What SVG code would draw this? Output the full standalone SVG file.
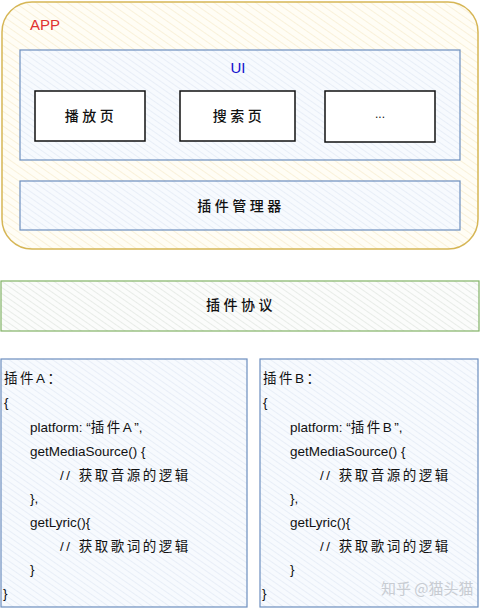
<svg xmlns="http://www.w3.org/2000/svg" width="481" height="611" viewBox="0 0 481 611">
<style>
.t{font-family:"Noto Sans CJK SC","Liberation Sans",sans-serif;font-size:14px;font-weight:500;fill:#111;letter-spacing:3.5px}
.c{text-anchor:middle}
.code{font-family:"Liberation Sans","Noto Sans CJK SC",sans-serif;font-size:13.5px;fill:#111}
.cj{letter-spacing:2.5px}
</style>
<defs>
<pattern id="hy" width="6" height="6" patternUnits="userSpaceOnUse" patternTransform="rotate(-55)"><rect width="6" height="6" fill="#fffdf5"/><line x1="0" y1="0" x2="0" y2="6" stroke="#f3e6bf" stroke-width="1"/></pattern>
<pattern id="hb" width="5" height="5" patternUnits="userSpaceOnUse" patternTransform="rotate(-55)"><rect width="5" height="5" fill="#f7fafe"/><line x1="0" y1="0" x2="0" y2="5" stroke="#d9e3f1" stroke-width="1"/></pattern>
<pattern id="hg" width="5" height="5" patternUnits="userSpaceOnUse" patternTransform="rotate(-55)"><rect width="5" height="5" fill="#fbfcfb"/><line x1="0" y1="0" x2="0" y2="5" stroke="#d6dcd5" stroke-width="1"/></pattern>
</defs>
<rect width="481" height="611" fill="#ffffff"/>
<g id="app">
<rect x="2" y="2" width="476" height="247" rx="30" fill="url(#hy)" stroke="#d6b656" stroke-width="1.5"/>
<text x="30" y="30" style="font-family:'Liberation Sans',sans-serif;font-size:15px;fill:#e03030">APP</text>
</g>
<g id="ui">
<rect x="20" y="50" width="440" height="110" fill="url(#hb)" stroke="#6c8ebf" stroke-width="1.2"/>
<text x="238" y="73" class="c" style="font-family:'Liberation Sans',sans-serif;font-size:15px;fill:#1010cc">UI</text>
</g>
<g id="play">
<rect x="35" y="91" width="110" height="50" fill="#ffffff" stroke="#111" stroke-width="1.5"/>
<text x="91" y="121" class="t c">播放页</text>
</g>
<g id="search">
<rect x="180" y="91" width="115" height="50" fill="#ffffff" stroke="#111" stroke-width="1.5"/>
<text x="239" y="121" class="t c">搜索页</text>
</g>
<g id="more">
<rect x="325" y="91" width="110" height="51" fill="#ffffff" stroke="#111" stroke-width="1.5"/>
<text x="380" y="118" class="c" style="font-family:'Liberation Sans',sans-serif;font-size:12px;fill:#111">...</text>
</g>
<g id="manager">
<rect x="20" y="181" width="440" height="49" fill="url(#hb)" stroke="#6c8ebf" stroke-width="1.2"/>
<text x="241" y="211" class="t c">插件管理器</text>
</g>
<g id="protocol">
<rect x="1" y="281" width="478" height="50" fill="url(#hg)" stroke="#82b366" stroke-width="1.2"/>
<text x="241" y="310" class="t c">插件协议</text>
</g>
<g id="pluginA">
<rect x="1" y="359" width="246" height="248" fill="url(#hb)" stroke="#6c8ebf" stroke-width="1.2"/>
<text x="4" y="383" class="code cj">插件A：</text>
<text x="4" y="407" class="code">{</text>
<text x="30" y="432" class="code">platform: “<tspan class="cj">插件A</tspan>”,</text>
<text x="30" y="456" class="code">getMediaSource()  {</text>
<text x="60" y="480" class="code cj">// 获取音源的逻辑</text>
<text x="30" y="503" class="code">},</text>
<text x="30" y="527" class="code">getLyric(){</text>
<text x="60" y="551" class="code cj">// 获取歌词的逻辑</text>
<text x="30" y="574" class="code">}</text>
<text x="3" y="598" class="code">}</text>
</g>
<g id="pluginB">
<rect x="260" y="359" width="218" height="248" fill="url(#hb)" stroke="#6c8ebf" stroke-width="1.2"/>
<text x="263" y="383" class="code cj">插件B：</text>
<text x="263" y="407" class="code">{</text>
<text x="290" y="432" class="code">platform: “<tspan class="cj">插件B</tspan>”,</text>
<text x="290" y="456" class="code">getMediaSource()  {</text>
<text x="320" y="480" class="code cj">// 获取音源的逻辑</text>
<text x="290" y="503" class="code">},</text>
<text x="290" y="527" class="code">getLyric(){</text>
<text x="320" y="551" class="code cj">// 获取歌词的逻辑</text>
<text x="290" y="574" class="code">}</text>
<text x="262" y="598" class="code">}</text>
</g>
<text x="381" y="594" style="font-family:'Noto Sans CJK SC',sans-serif;font-size:15px;fill:#c8ccd2">知乎 @猫头猫</text>
</svg>
